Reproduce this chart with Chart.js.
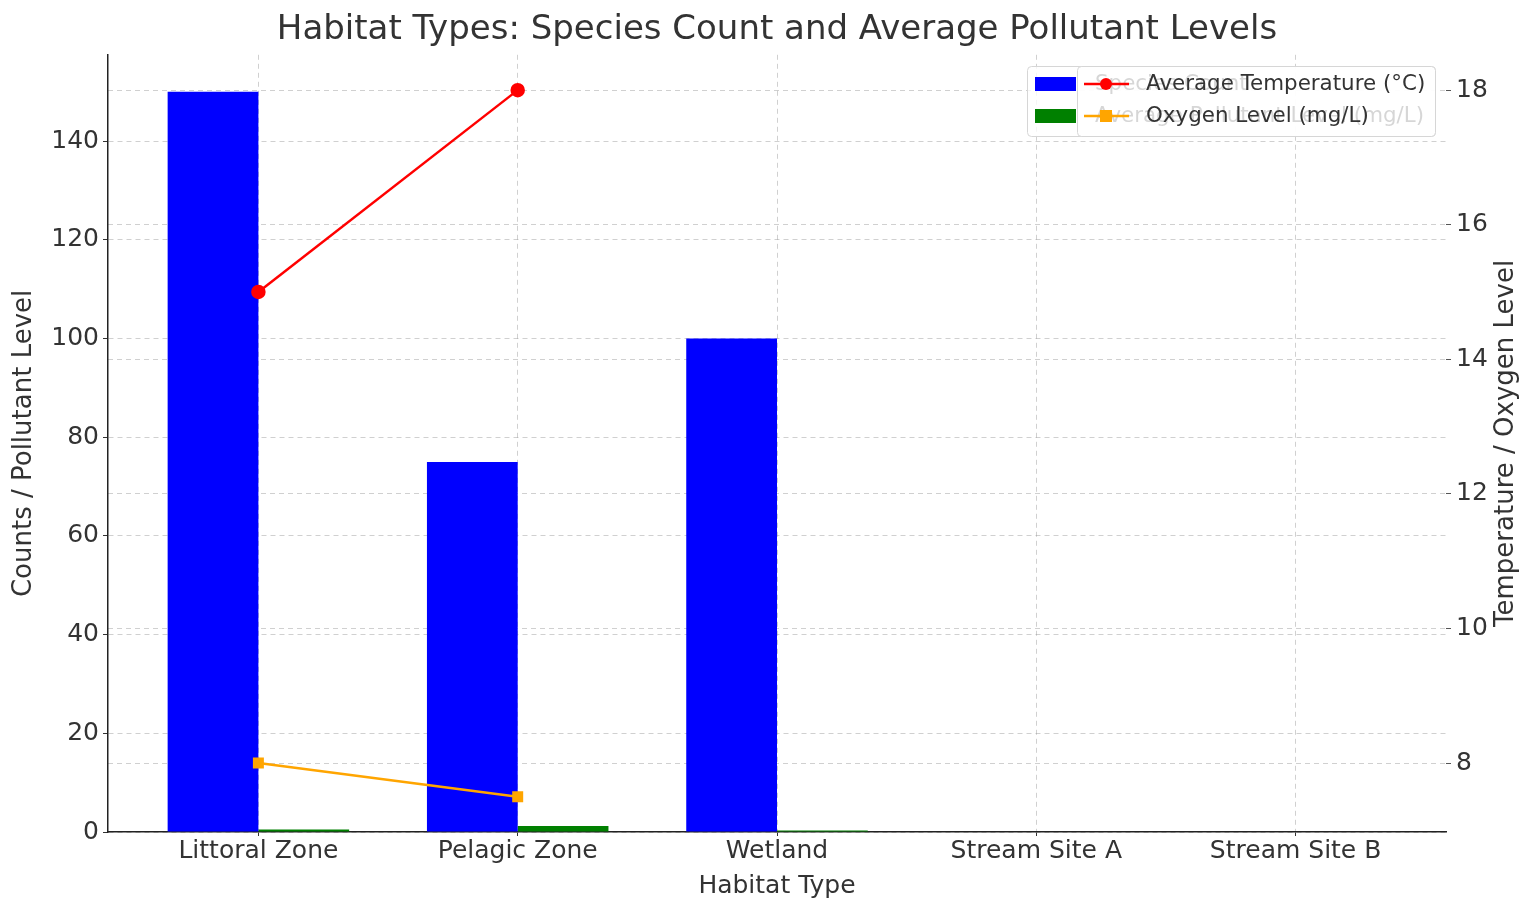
<!DOCTYPE html>
<html>
<head>
<meta charset="utf-8">
<script src="https://cdn.jsdelivr.net/npm/chart.js@4.4.1/dist/chart.umd.min.js"></script>
<style>
  html, body { margin: 0; padding: 0; background: #fff; }
  #wrap { width: 1536px; height: 915px; }
</style>
</head>
<body>
<div id="wrap"><canvas id="habitat-chart"></canvas></div>
<script>
// Data
var categories = ["Littoral Zone", "Pelagic Zone", "Wetland", "Stream Site A", "Stream Site B"];
var speciesCount = [150, 75, 100, null, null];
var pollutantLevel = [0.5, 1.2, 0.3, null, null];
var avgTemperature = [15, 18, null, null, null];
var oxygenLevel = [8, 7.5, null, null, null];
var leftTicks = [0, 20, 40, 60, 80, 100, 120, 140];
var rightTicks = [8, 10, 12, 14, 16, 18];
var rightTitle = "Temperature / Oxygen Level";

var FONT = "'DejaVu Sans', sans-serif";
var TEXT = "#333333";
var GRID = "rgba(150,150,150,0.45)";

function toPoints(arr) {
    return arr.map(function (v, i) { return { x: i, y: v }; });
}

// Right axis title reads bottom-to-top, and two overlapping legends
var extras = {
    id: "extras",
    afterDraw: function (chart) {
        var ctx = chart.ctx;
        var ds = chart.data.datasets;
        var area = chart.chartArea;
        ctx.save();

        // right axis title
        ctx.save();
        ctx.translate(1506, (area.top + area.bottom) / 2);
        ctx.rotate(-Math.PI / 2);
        ctx.font = "26px " + FONT;
        ctx.fillStyle = TEXT;
        ctx.textAlign = "center";
        ctx.textBaseline = "middle";
        ctx.fillText(rightTitle, 0, 0);
        ctx.restore();

        ctx.font = "21.4px " + FONT;
        ctx.textBaseline = "middle";

        function frame(x, y, w, h) {
            ctx.beginPath();
            ctx.roundRect(x, y, w, h, 4);
            ctx.fillStyle = "rgba(255,255,255,0.8)";
            ctx.fill();
            ctx.strokeStyle = "#d6d6d6";
            ctx.lineWidth = 1;
            ctx.stroke();
        }

        // bar legend
        frame(1027.5, 66.5, 408, 70);
        ctx.fillStyle = ds[2].backgroundColor;
        ctx.fillRect(1035, 77, 41, 14);
        ctx.fillStyle = ds[3].backgroundColor;
        ctx.fillRect(1035, 109, 41, 14);
        ctx.fillStyle = TEXT;
        ctx.fillText(ds[2].label, 1095, 84);
        ctx.fillText(ds[3].label, 1095, 116);

        // line legend on top
        frame(1077.5, 66.5, 358, 70);
        [[ds[0], 84], [ds[1], 116]].forEach(function (r) {
            var d = r[0], y = r[1];
            ctx.strokeStyle = d.borderColor;
            ctx.lineWidth = 2.5;
            ctx.beginPath();
            ctx.moveTo(1084, y);
            ctx.lineTo(1129, y);
            ctx.stroke();
            ctx.fillStyle = d.borderColor;
            if (d.pointStyle === "rect") {
                ctx.fillRect(1100, y - 6, 12, 12);
            } else {
                ctx.beginPath();
                ctx.arc(1106, y, 6, 0, Math.PI * 2);
                ctx.fill();
            }
            ctx.fillStyle = TEXT;
            ctx.fillText(d.label, 1146, y);
        });
        ctx.restore();
    }
};

var config = {
    type: "bar",
    data: {
        datasets: [{
            type: "line",
            label: "Average Temperature (°C)",
            data: toPoints(avgTemperature),
            yAxisID: "y2",
            borderColor: "#ff0000",
            backgroundColor: "#ff0000",
            borderWidth: 2.5,
            pointStyle: "circle",
            pointRadius: 6,
            pointHoverRadius: 6,
            order: 1
        }, {
            type: "line",
            label: "Oxygen Level (mg/L)",
            data: toPoints(oxygenLevel),
            yAxisID: "y2",
            borderColor: "#ffa500",
            backgroundColor: "#ffa500",
            borderWidth: 2.5,
            pointStyle: "rect",
            pointRadius: 6,
            pointHoverRadius: 6,
            order: 1
        }, {
            label: "Species Count",
            data: toPoints(speciesCount),
            yAxisID: "y",
            backgroundColor: "#0000ff",
            order: 2
        }, {
            label: "Average Pollutant Level (mg/L)",
            data: toPoints(pollutantLevel),
            yAxisID: "y",
            backgroundColor: "#008000",
            order: 2
        }]
    },
    options: {
        responsive: true,
        maintainAspectRatio: false,
        animation: false,
        layout: { padding: 0 },
        datasets: {
            bar: { categoryPercentage: 0.7, barPercentage: 1.0 }
        },
        plugins: {
            legend: { display: false },
            tooltip: { enabled: false },
            title: {
                display: true,
                fullSize: false,
                text: "Habitat Types: Species Count and Average Pollutant Levels",
                color: TEXT,
                font: { family: FONT, size: 34, weight: "normal" },
                padding: { top: 10, bottom: 4 }
            }
        },
        scales: {
            x: {
                type: "linear",
                min: -0.58,
                max: 4.58,
                offset: false,
                z: 1,
                afterFit: function (s) { s.height = 83; },
                border: { display: true, color: "#222", width: 1.5, dash: [5, 4] },
                grid: {
                    offset: false, color: GRID, tickColor: "#333",
                    tickBorderDash: [], tickLength: 4
                },
                ticks: {
                    stepSize: 1,
                    includeBounds: false,
                    autoSkip: false,
                    maxRotation: 0,
                    padding: 0,
                    color: TEXT,
                    font: { family: FONT, size: 25 },
                    callback: function (v) { return categories[v] !== undefined ? categories[v] : ""; }
                },
                title: {
                    display: true, text: "Habitat Type", color: TEXT,
                    font: { family: FONT, size: 25 },
                    padding: { top: 0, bottom: 14 }
                }
            },
            y: {
                position: "left",
                min: 0,
                max: 157.5,
                z: 1,
                afterFit: function (s) { s.width = 108; },
                afterBuildTicks: function (s) { s.ticks = leftTicks.map(function (v) { return { value: v }; }); },
                border: { display: true, color: "#222", width: 1.5, dash: [5, 4] },
                grid: { color: GRID, tickColor: "#333", tickBorderDash: [], tickLength: 5 },
                ticks: { padding: 4, color: TEXT, font: { family: FONT, size: 25 } },
                title: {
                    display: true, text: "Counts / Pollutant Level", color: TEXT,
                    font: { family: FONT, size: 26 },
                    padding: { top: 9, bottom: 0 }
                }
            },
            y2: {
                position: "right",
                min: 6.975,
                max: 18.525,
                z: 1,
                afterFit: function (s) { s.width = 90; },
                afterBuildTicks: function (s) { s.ticks = rightTicks.map(function (v) { return { value: v }; }); },
                border: { display: false, dash: [5, 4] },
                grid: { color: GRID, tickColor: "#555", tickBorderDash: [], tickLength: 5 },
                ticks: { padding: 5, color: TEXT, font: { family: FONT, size: 25 } },
                title: { display: false }
            }
        }
    },
    plugins: [extras]
};

var habitatChart = new Chart(document.getElementById("habitat-chart"), config);
</script>
</body>
</html>
